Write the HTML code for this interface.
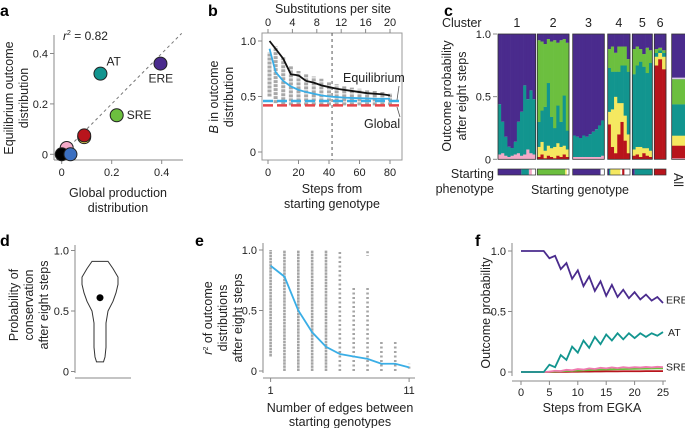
<!DOCTYPE html>
<html><head><meta charset="utf-8"><style>
body{margin:0;background:#fff}
svg{display:block;font-family:"Liberation Sans",sans-serif}
</style></head><body>
<svg id="fig" width="685" height="428" viewBox="0 0 685 428" xmlns="http://www.w3.org/2000/svg">
<g font-weight="bold" font-size="16" fill="#000">
<text x="0" y="16">a</text>
<text x="208" y="16">b</text>
<text x="444" y="16">c</text>
<text x="0" y="246">d</text>
<text x="195" y="246">e</text>
<text x="475" y="246">f</text>
</g>
</svg>
<script>
// ---------- data ----------
// panel a
const aLabels=["AT","ERE","SRE","red","yellow","pink","black","blue"];
const aGlobal=[0.155,0.395,0.22,0.09,0.09,0.02,0.0,0.035];
const aEquil=[0.32,0.36,0.155,0.075,0.068,0.025,0.0,0.0];
const aColors=["#12958f","#4a2b8d","#6cbf3f","#b8141c","#f2e45a","#f4aac8","#000","#3b6fc0"];
const aTicks=[0,0.2,0.4];
// panel b
const bSteps=[1,5,10,15,20,25,30,35,40,45,50,55,60,65,70,75,80];
const bMean=[1.0,0.93,0.84,0.70,0.69,0.64,0.625,0.60,0.585,0.57,0.56,0.55,0.54,0.53,0.525,0.52,0.51];
const bPred=[0.93,0.72,0.64,0.59,0.56,0.54,0.525,0.51,0.50,0.495,0.49,0.487,0.485,0.483,0.48,0.48,0.48];
const bMax=[0.90,0.95,0.86,0.78,0.73,0.70,0.68,0.66,0.63,0.61,0.60,0.58,0.57,0.56,0.55,0.54,0.53];
const bMin=[0.50,0.44,0.43,0.42,0.42,0.42,0.42,0.42,0.42,0.42,0.42,0.42,0.42,0.42,0.42,0.42,0.42];
const bEquilibrium=0.46, bGlobal=0.42;
const bXTicks=[0,20,40,60,80];
const bTopTicks=[0,4,8,12,16,20];
const bYTicks=[0,0.5,1.0];
// panel c (stacked fractions per cluster, bottom-up)
const cClusterNames=["1","2","3","4","5","6"];
const cPink=[[.04,.05,.03,.02,.03,.04,.05,.03,.04,.08,.05,.04],[0,0,0,0,0,0,0,0,0,0],[.02,.02,.02,.02,.02,.02,.02,.02,.02,.03],[0,0,0,0,0,0,0],[0,0,0,0,0,0],[0,0,0]];
const cRed=[[0,0,0,0,0,0,0,0,0,0,0,0],[.02,.04,.01,.03,.02,.01,.03,.02,.04,.02],[0,0,0,0,0,0,0,0,0,0],[.28,.1,.05,.2,.3,.15,.05],[.03,.04,.02,.05,.03,.02],[.75,.8,.72]];
const cYellow=[[0,0,0,0,0,0,0,0,0,0,0,0],[.08,.1,.06,.08,.07,.09,.1,.08,.07,.06],[0,0,0,0,0,0,0,0,0,0],[.1,.3,.45,.25,.15,.2,.15],[.05,.06,.08,.04,.06,.05],[.07,.05,.1]];
const cTeal=[[.4,.25,.15,.08,.06,.1,.25,.35,.55,.4,.5,.44],[.2,.25,.35,.5,.25,.15,.3,.2,.4,.15],[.17,.16,.15,.17,.16,.18,.2,.22,.25,.28],[.35,.3,.2,.25,.3,.4,.5],[.6,.65,.68,.65,.6,.7],[.03,.02,.03]];
const cGreen=[[0,0,0,0,0,0,0,0,0,0,0,0],[.65,.55,.5,.35,.6,.7,.5,.65,.45,.7],[0,0,0,0,0,0,0,0,0,0],[.15,.2,.15,.2,.15,.15,.1],[.2,.15,.1,.1,.2,.1],[.03,.02,.02]];
const cAll=[.01,.1,.08,.25,.2]; // pink, red, yellow, teal, green; remainder ERE
const cYTicks=[0,0.5,1.0];
// panel d
const dY=[0.91,0.85,0.78,0.72,0.65,0.58,0.5,0.4,0.3,0.2,0.12,0.08];
const dHalfW=[8,13,18,18,16,13,8,6,6,6,5,3.5];
const dMean=0.61;
const dYTicks=[0,0.5,1.0];
// panel e
const eEdges=[1,2,3,4,5,6,7,8,9,10,11];
const eMin=[0.12,0,0,0,0,0,0,0,0,0,0.02];
const eMax=[1.0,1.0,1.0,1.0,1.0,1.0,0.7,0.7,0.26,0.26,0.06];
const eMean=[0.87,0.78,0.5,0.32,0.2,0.14,0.12,0.1,0.06,0.06,0.03];
const eYTicks=[0,0.5,1.0];
// panel f
const fSteps=[0,1,2,3,4,5,6,7,8,9,10,11,12,13,14,15,16,17,18,19,20,21,22,23,24,25];
const fERE=[1,1,1,1,1,.94,.96,.85,.9,.77,.84,.71,.79,.67,.75,.63,.72,.62,.68,.61,.66,.6,.64,.59,.62,.57];
const fAT=[0,0,0,0,0,.06,.04,.14,.1,.21,.16,.26,.2,.29,.23,.31,.26,.32,.27,.32,.28,.32,.29,.32,.3,.33];
const fSRE=[0,0,0,0,0,.002,.004,.006,.008,.01,.012,.014,.016,.018,.02,.021,.022,.023,.024,.025,.026,.027,.028,.029,.03,.03];
const fPink=[0,0,0,0,0,.003,.01,.008,.018,.014,.025,.02,.03,.025,.035,.03,.038,.032,.04,.035,.04,.037,.042,.038,.043,.04];
const fRed=[0,0,0,0,0,0,0,.001,.001,.002,.002,.003,.003,.004,.004,.005,.005,.005,.006,.006,.006,.006,.007,.007,.007,.007];
const fXTicks=[0,5,10,15,20,25];
const fYTicks=[0,0.5,1.0];

// ---------- helpers ----------
const NS="http://www.w3.org/2000/svg";
const svg=document.getElementById('fig');
function mk(tag,attrs,parent){const e=document.createElementNS(NS,tag);for(const k in attrs)e.setAttribute(k,attrs[k]);(parent||svg).appendChild(e);return e;}
function txt(s,x,y,opts){const e=mk('text',Object.assign({x:x,y:y,'font-size':11,fill:'#222'},opts||{}));e.textContent=s;return e;}
const AX='#888';

// ---------- panel a ----------
const xa=v=>61.7+v*250, ya=v=>154.3-v*252;
let e;
e=mk('line',{x1:54,y1:35,x2:54,y2:160,stroke:AX});


e=mk('line',{x1:54,y1:160,x2:183,y2:160,stroke:AX});


aTicks.forEach(t=>{
 mk('line',{x1:50,y1:ya(t),x2:54,y2:ya(t),stroke:AX});
 e=txt(t===0?'0':t.toFixed(1),48,ya(t)+4,{'text-anchor':'end'});
 
 
 mk('line',{x1:xa(t),y1:160,x2:xa(t),y2:164,stroke:AX});
 e=txt(t===0?'0':t.toFixed(1),xa(t),176,{'text-anchor':'middle'});
 
 
});
e=mk('line',{x1:xa(0),y1:ya(0),x2:xa(0.48),y2:ya(0.48),stroke:'#777','stroke-dasharray':'3,3'});


[4,3,2,5,0,1,6,7].forEach(i=>{
 e=mk('circle',{cx:xa(aGlobal[i]),cy:ya(aEquil[i]),r:6.5,fill:aColors[i],stroke:'#222','stroke-width':1});
 
 
});
e=txt('AT',xa(0.155)+6,ya(0.32)-8,{'font-size':12});


e=txt('ERE',xa(0.395)-12,ya(0.36)+19,{'font-size':12});


e=txt('SRE',xa(0.22)+10,ya(0.155)+4,{'font-size':12});


e=mk('text',{x:63,y:40,'font-size':12,fill:'#222'});
e.innerHTML='<tspan font-style="italic">r</tspan><tspan font-size="7" dy="-5">2</tspan><tspan dy="5"> = 0.82</tspan>';


e=txt('Equilibrium outcome',13,98,{'font-size':12.5,'text-anchor':'middle',transform:'rotate(-90 13 98)'});


txt('distribution',28,98,{'font-size':12.5,'text-anchor':'middle',transform:'rotate(-90 28 98)'});
e=txt('Global production',118,197,{'font-size':12.5,'text-anchor':'middle'});


txt('distribution',118,212,{'font-size':12.5,'text-anchor':'middle'});

// ---------- panel b ----------
const xb=s=>268+s*1.525, yb=v=>152-v*111;
e=mk('rect',{x:262,y:33,width:140,height:127,fill:'none',stroke:'#999'});


bYTicks.forEach(t=>{mk('line',{x1:258,y1:yb(t),x2:262,y2:yb(t),stroke:AX});
 e=txt(t===0?'0':t.toFixed(1),256,yb(t)+4,{'text-anchor':'end'});
 
 });
bXTicks.forEach(t=>{mk('line',{x1:xb(t),y1:160,x2:xb(t),y2:164,stroke:AX});
 e=txt(String(t),xb(t),176,{'text-anchor':'middle'});
 
 });
bTopTicks.forEach(t=>{mk('line',{x1:xb(t*4),y1:29,x2:xb(t*4),y2:33,stroke:AX});
 e=txt(String(t),xb(t*4),26,{'text-anchor':'middle'});
 
 });
bSteps.forEach((s,i)=>{
 e=mk('line',{x1:xb(s),y1:yb(bMin[i]),x2:xb(s),y2:yb(bMax[i]),stroke:'#a8a8a8','stroke-width':4,'stroke-dasharray':'3,1'});
 
 
});
e=mk('line',{x1:xb(42),y1:33,x2:xb(42),y2:160,stroke:'#555','stroke-dasharray':'3,3'});


e=mk('line',{x1:263,y1:yb(bEquilibrium),x2:401,y2:yb(bEquilibrium),stroke:'#3aaee6','stroke-width':2.5,'stroke-dasharray':'10,4'});


e=mk('line',{x1:263,y1:yb(bGlobal),x2:401,y2:yb(bGlobal),stroke:'#e8454a','stroke-width':2.5,'stroke-dasharray':'10,4'});


e=mk('polyline',{points:bSteps.map((s,i)=>xb(s)+','+yb(bPred[i])).join(' '),fill:'none',stroke:'#3aaee6','stroke-width':1.8});


e=mk('polyline',{points:bSteps.map((s,i)=>xb(s)+','+yb(bMean[i])).join(' '),fill:'none',stroke:'#111','stroke-width':1.8});


e=txt('Equilibrium',343,82,{'font-size':12.5});


mk('line',{x1:399,y1:86,x2:397,y2:100,stroke:'#555','stroke-width':0.8});
e=txt('Global',364,128,{'font-size':12.5});


mk('line',{x1:397,y1:107,x2:400,y2:117,stroke:'#555','stroke-width':0.8});
e=txt('Substitutions per site',333,13,{'font-size':12.5,'text-anchor':'middle'});


e=txt('Steps from',332,193,{'font-size':12.5,'text-anchor':'middle'});


txt('starting genotype',332,208,{'font-size':12.5,'text-anchor':'middle'});
e=mk('text',{x:218,y:97,'font-size':12.5,fill:'#222','text-anchor':'middle',transform:'rotate(-90 218 97)'});
e.innerHTML='<tspan font-style="italic">B</tspan> in outcome';


txt('distribution',233,97,{'font-size':12.5,'text-anchor':'middle',transform:'rotate(-90 233 97)'});

// ---------- panel c ----------
const yc=v=>159.3-v*125.3;
const cX=[[498,535.7],[537.3,569],[572.7,604.3],[607.7,630],[632.3,652.3],[654.3,666]];
const COL={pink:'#f4aac8',red:'#b8141c',yellow:'#f5e860',teal:'#12958f',green:'#6cbf3f',ere:'#4a2b8d'};
cX.forEach((r,ci)=>{
 const g=mk('g',{});
 
 
 const n=cTeal[ci].length, w=(r[1]-r[0])/n;
 for(let j=0;j<n;j++){
  const x=r[0]+j*w;const fr=[cPink[ci][j],cRed[ci][j],cYellow[ci][j],cTeal[ci][j],cGreen[ci][j]];
  let acc=0;['pink','red','yellow','teal','green'].forEach((c,k)=>{const v=fr[k];if(v>0)mk('rect',{x:x,y:yc(acc+v),width:w+0.3,height:v*125.3+0.2,fill:COL[c]},g);acc+=v;});
  mk('rect',{x:x,y:yc(1),width:w+0.3,height:(1-acc)*125.3,fill:COL.ere},g);
 }
 mk('rect',{x:r[0],y:yc(1),width:r[1]-r[0],height:125.3,fill:'none',stroke:'#333','stroke-width':0.8},g);
 e=txt(cClusterNames[ci],(r[0]+r[1])/2,27,{'font-size':12.5,'text-anchor':'middle'});
 
 
});
(function(){const g=mk('g',{});
 
 
 let acc=0;['pink','red','yellow','teal','green'].forEach((c,k)=>{const v=cAll[k];mk('rect',{x:671.7,y:yc(acc+v),width:13.3,height:v*125.3+0.2,fill:COL[c]},g);acc+=v;});
 mk('rect',{x:671.7,y:yc(1),width:13.3,height:(1-acc)*125.3,fill:COL.ere},g);
 mk('rect',{x:671.7,y:yc(acc)-1.5,width:13.3,height:1.5,fill:'#d9c9e8'},g);
 mk('rect',{x:671.7,y:yc(1),width:14,height:125.3,fill:'none',stroke:'#333','stroke-width':0.8},g);})();
e=txt('Cluster',442,27,{'font-size':12.5});


cYTicks.forEach(t=>{mk('line',{x1:493,y1:yc(t),x2:497,y2:yc(t),stroke:AX});
 e=txt(t===0?'0':t.toFixed(1),491,yc(t)+4,{'text-anchor':'end'});
 
 });
e=txt('Outcome probability',451,96,{'font-size':12.5,'text-anchor':'middle',transform:'rotate(-90 451 96)'});


txt('after eight steps',466,96,{'font-size':12.5,'text-anchor':'middle',transform:'rotate(-90 466 96)'});
const phen=[[['ere',.62],['teal',.2],['pink',.08],['white',.1]],[['green',.88],['yellow',.05],['white',.07]],[['ere',.88],['white',.12]],[['ere',.06],['teal',.06],['yellow',.45],['white',.08],['red',.1],['white',.25]],[['ere',.12],['teal',.88]],[['red',1]]];
cX.forEach((r,ci)=>{let x=r[0];const W=r[1]-r[0];
 const g=mk('g',{});
 
 
 phen[ci].forEach(p=>{mk('rect',{x:x,y:169,width:p[1]*W,height:6,fill:p[0]==='white'?'#fff':COL[p[0]]},g);x+=p[1]*W;});
 mk('rect',{x:r[0],y:169,width:W,height:6,fill:'none',stroke:'#333','stroke-width':0.7},g);});
e=txt('Starting',494,178,{'font-size':12.5,'text-anchor':'end'});


txt('phenotype',494,193,{'font-size':12.5,'text-anchor':'end'});
e=txt('Starting genotype',580,194,{'font-size':12.5,'text-anchor':'middle'});


e=txt('All',674,173,{'font-size':12.5,transform:'rotate(90 674 173)'});



// ---------- panel d ----------
const yd=v=>371.5-v*121;
mk('line',{x1:75,y1:245,x2:75,y2:373,stroke:AX});
e=mk('line',{x1:75,y1:378,x2:131,y2:378,stroke:AX});


dYTicks.forEach(t=>{mk('line',{x1:71,y1:yd(t),x2:75,y2:yd(t),stroke:AX});
 e=txt(t===0?'0':t.toFixed(1),69,yd(t)+4,{'text-anchor':'end'});
 
 });
(function(){const cx=100;let l=dY.map((v,i)=>(cx-dHalfW[i])+','+yd(v));let r=dY.map((v,i)=>(cx+dHalfW[i])+','+yd(v)).reverse();
 e=mk('polygon',{points:l.concat(r).join(' '),fill:'none',stroke:'#333','stroke-width':1});
 
 
 e=mk('circle',{cx:cx,cy:yd(dMean),r:3.5,fill:'#000'});
 
 })();
e=txt('Probability of',18,305,{'font-size':12.5,'text-anchor':'middle',transform:'rotate(-90 18 305)'});


txt('conservation',33,305,{'font-size':12.5,'text-anchor':'middle',transform:'rotate(-90 33 305)'});
txt('after eight steps',48,305,{'font-size':12.5,'text-anchor':'middle',transform:'rotate(-90 48 305)'});

// ---------- panel e ----------
const xe=v=>270.6+(v-1)*13.85, ye=v=>371-v*121;
mk('line',{x1:263,y1:243,x2:263,y2:373,stroke:AX});
e=mk('line',{x1:263,y1:378,x2:415,y2:378,stroke:AX});


eYTicks.forEach(t=>{mk('line',{x1:259,y1:ye(t),x2:263,y2:ye(t),stroke:AX});
 e=txt(t===0?'0':t.toFixed(1),257,ye(t)+4,{'text-anchor':'end'});
 
 });
[1,11].forEach(t=>{mk('line',{x1:xe(t),y1:378,x2:xe(t),y2:382,stroke:AX});
 e=txt(String(t),xe(t),394,{'text-anchor':'middle'});
 
 });
eEdges.forEach((d,i)=>{
 e=mk('line',{x1:xe(d),y1:ye(eMin[i]),x2:xe(d),y2:ye(eMax[i]),stroke:'#a5a5a5','stroke-width':2.6,'stroke-dasharray':i<5?'2.5,0.6':'2,2.5'});
 
 
});
mk('line',{x1:xe(8),y1:ye(0.99),x2:xe(8),y2:ye(0.95),stroke:'#a5a5a5','stroke-width':2.6,'stroke-dasharray':'2,2'});
e=mk('polyline',{points:eEdges.map((d,i)=>xe(d)+','+ye(eMean[i])).join(' '),fill:'none',stroke:'#3aaee6','stroke-width':1.8});


e=mk('text',{x:212,y:318,'font-size':12.5,fill:'#222','text-anchor':'middle',transform:'rotate(-90 212 318)'});
e.innerHTML='<tspan font-style="italic">r</tspan><tspan font-size="7" dy="-4">2</tspan><tspan dy="4"> of outcome</tspan>';


txt('distributions',227,318,{'font-size':12.5,'text-anchor':'middle',transform:'rotate(-90 227 318)'});
txt('after eight steps',242,318,{'font-size':12.5,'text-anchor':'middle',transform:'rotate(-90 242 318)'});
e=txt('Number of edges between',340,412,{'font-size':12.5,'text-anchor':'middle'});


txt('starting genotypes',340,426,{'font-size':12.5,'text-anchor':'middle'});

// ---------- panel f ----------
const xf=s=>521+s*5.68, yf=v=>372-v*121;
mk('line',{x1:512,y1:243,x2:512,y2:376,stroke:AX});
e=mk('line',{x1:512,y1:381,x2:666,y2:381,stroke:AX});


fYTicks.forEach(t=>{mk('line',{x1:508,y1:yf(t),x2:512,y2:yf(t),stroke:AX});
 e=txt(t===0?'0':t.toFixed(1),506,yf(t)+4,{'text-anchor':'end'});
 
 });
fXTicks.forEach(t=>{mk('line',{x1:xf(t),y1:381,x2:xf(t),y2:385,stroke:AX});
 e=txt(String(t),xf(t),396,{'text-anchor':'middle'});
 
 });
[[fRed,'#b8141c','f-red-line'],[fSRE,'#6cbf3f','f-sre-line'],[fPink,'#f07ab0','f-pink-line'],[fAT,'#12958f','f-at-line'],[fERE,'#4a2b8d','f-ere-line']].forEach(s=>{
 e=mk('polyline',{points:fSteps.map((t,i)=>xf(t)+','+yf(s[0][i])).join(' '),fill:'none',stroke:s[1],'stroke-width':1.8});
 
 
});
e=txt('ERE',666,yf(0.6)+4,{'font-size':10.5});


e=txt('AT',668,yf(0.33)+4,{'font-size':10.5});


e=txt('SRE',666,yf(0.03)+2,{'font-size':10.5});


e=txt('Outcome probability',490,313,{'font-size':12.5,'text-anchor':'middle',transform:'rotate(-90 490 313)'});


e=txt('Steps from EGKA',592,412,{'font-size':12.5,'text-anchor':'middle'});


</script>
</body></html>
